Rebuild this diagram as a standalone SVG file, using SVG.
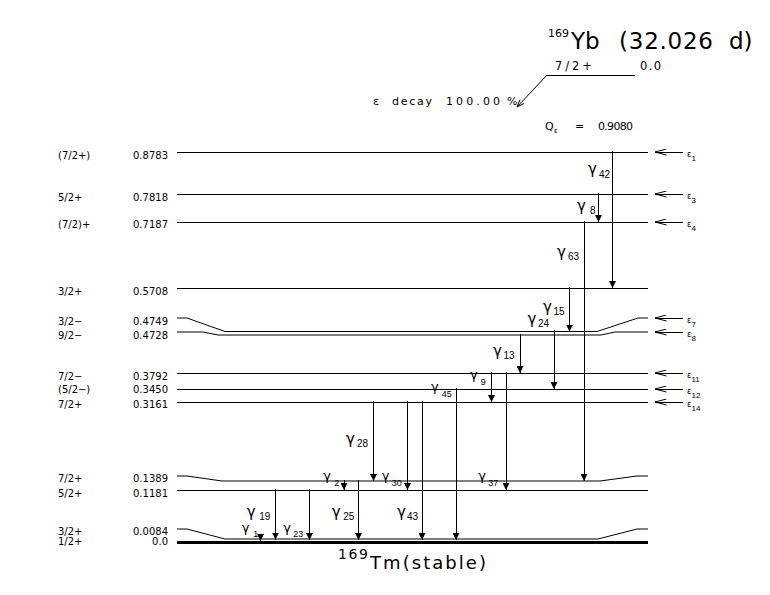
<svg xmlns="http://www.w3.org/2000/svg" width="770" height="595" viewBox="0 0 770 595">
<style>
.lv{fill:none;stroke:#000;stroke-width:1;shape-rendering:crispEdges}
.gnd{fill:none;stroke:#000;stroke-width:3;shape-rendering:crispEdges}
.t{font-family:"DejaVu Sans",sans-serif;font-size:10px;fill:#000}
.e{text-anchor:end}
.eps{font-family:"DejaVu Sans",sans-serif;font-size:8px;fill:#000}
.es{font-family:"Liberation Sans",sans-serif;font-size:8px;fill:#000}
.g{font-family:"DejaVu Sans",sans-serif;font-size:15px;fill:#000}
.gs{font-family:"DejaVu Sans",sans-serif;font-size:13px;fill:#000}
.sub{font-family:"Liberation Sans",sans-serif;font-size:10px;fill:#000}
.subs{font-family:"Liberation Sans",sans-serif;font-size:9px;fill:#000}
.tr{stroke:#000;stroke-width:1;marker-end:url(#ah);shape-rendering:crispEdges}
.fd{stroke:#000;stroke-width:1;marker-end:url(#oa);shape-rendering:crispEdges}
.hd{font-family:"DejaVu Sans",sans-serif;fill:#000}
</style>
<defs>
<marker id="ah" viewBox="0 0 7 7" markerWidth="7" markerHeight="7" refX="7" refY="3.5" orient="auto" markerUnits="userSpaceOnUse"><path d="M0,0 L7,3.5 L0,7 Z" fill="#000"/></marker>
<marker id="oa" viewBox="0 0 12 7" markerWidth="12" markerHeight="7" refX="11.5" refY="3.5" orient="auto" markerUnits="userSpaceOnUse"><path d="M0,0.5 L11.5,3.5 L0,6.5" fill="none" stroke="#000" stroke-width="1"/></marker>
</defs>
<rect width="770" height="595" fill="#fff"/>

<g id="parent">
<text class="hd" x="548" y="37" font-size="11">169</text>
<text class="hd" x="571" y="49" font-size="23">Yb</text>
<text class="hd" x="619" y="49" font-size="23" textLength="94">(32.026</text>
<text class="hd" x="729" y="49" font-size="23">d)</text>
<text class="hd" x="555" y="70" font-size="11.5" textLength="37">7/2+</text>
<text class="hd" x="640" y="69.5" font-size="11.5" textLength="21">0.0</text>
<path class="lv" d="M547,75H635"/>
<path class="lv" d="M547,75L517,107M517,107L524.1,103.4M517,107L520.1,99.6" style="shape-rendering:auto"/>
<text class="hd" x="373" y="105" font-size="11">ε</text>
<text class="hd" x="392" y="105" font-size="11" textLength="40">decay</text>
<text class="hd" x="446" y="105" font-size="11" textLength="54">100.00</text>
<text class="hd" x="507" y="105" font-size="11">%</text>
<text class="hd" x="545" y="130" font-size="11">Q</text>
<text class="hd" x="554" y="133" font-size="7">ε</text>
<text class="hd" x="575" y="130" font-size="11">=</text>
<text class="hd" x="598" y="130" font-size="11" textLength="35">0.9080</text>
</g>

<g id="lv-8783"><path class="lv" d="M177,152H648"/><text class="t" x="58" y="159">(7/2+)</text><text class="t e" x="168" y="159">0.8783</text><line class="fd" x1="683" y1="152" x2="655" y2="152"/><text class="eps" x="687" y="157">ε</text><text class="es" x="691.5" y="161">1</text></g>
<g id="lv-7818"><path class="lv" d="M177,194H648"/><text class="t" x="58" y="200.5">5/2+</text><text class="t e" x="168" y="200.5">0.7818</text><line class="fd" x1="683" y1="194" x2="655" y2="194"/><text class="eps" x="687" y="199">ε</text><text class="es" x="691.5" y="203">3</text></g>
<g id="lv-7187"><path class="lv" d="M177,222H648"/><text class="t" x="58" y="228">(7/2)+</text><text class="t e" x="168" y="228">0.7187</text><line class="fd" x1="683" y1="222" x2="655" y2="222"/><text class="eps" x="687" y="227">ε</text><text class="es" x="691.5" y="231">4</text></g>
<g id="lv-5708"><path class="lv" d="M177,288H648"/><text class="t" x="58" y="294.5">3/2+</text><text class="t e" x="168" y="294.5">0.5708</text></g>
<g id="lv-4749"><path class="lv" d="M177,318H187L225,331.5H597L638,318H648" style="shape-rendering:auto"/><text class="t" x="58" y="324.5">3/2−</text><text class="t e" x="168" y="324.5">0.4749</text><line class="fd" x1="683" y1="318" x2="655" y2="318"/><text class="eps" x="687" y="323">ε</text><text class="es" x="691.5" y="327">7</text></g>
<g id="lv-4728"><path class="lv" d="M177,332H203L218,335H601L615,332H648" style="shape-rendering:auto"/><text class="t" x="58" y="338.5">9/2−</text><text class="t e" x="168" y="338.5">0.4728</text><line class="fd" x1="683" y1="332" x2="655" y2="332"/><text class="eps" x="687" y="337">ε</text><text class="es" x="691.5" y="341">8</text></g>
<g id="lv-3792"><path class="lv" d="M177,373H648"/><text class="t" x="58" y="379.5">7/2−</text><text class="t e" x="168" y="379.5">0.3792</text><line class="fd" x1="683" y1="373" x2="655" y2="373"/><text class="eps" x="687" y="378">ε</text><text class="es" x="691.5" y="382">11</text></g>
<g id="lv-3450"><path class="lv" d="M177,389H648"/><text class="t" x="58" y="393">(5/2−)</text><text class="t e" x="168" y="393">0.3450</text><line class="fd" x1="683" y1="389" x2="655" y2="389"/><text class="eps" x="687" y="394">ε</text><text class="es" x="691.5" y="398">12</text></g>
<g id="lv-3161"><path class="lv" d="M177,402H648"/><text class="t" x="58" y="408">7/2+</text><text class="t e" x="168" y="408">0.3161</text><line class="fd" x1="683" y1="402" x2="655" y2="402"/><text class="eps" x="687" y="407">ε</text><text class="es" x="691.5" y="411">14</text></g>
<g id="lv-1389"><path class="lv" d="M177,476H187L222,481H600L637,476H648" style="shape-rendering:auto"/><text class="t" x="58" y="482">7/2+</text><text class="t e" x="168" y="482">0.1389</text></g>
<g id="lv-1181"><path class="lv" d="M177,490H648"/><text class="t" x="58" y="496.5">5/2+</text><text class="t e" x="168" y="496.5">0.1181</text></g>
<g id="lv-0084"><path class="lv" d="M177,529H187L225,539H598L637,529H648" style="shape-rendering:auto"/><text class="t" x="58" y="535">3/2+</text><text class="t e" x="168" y="535">0.0084</text></g>
<g id="lv-0"><path class="gnd" d="M177,542H648"/><text class="t" x="58" y="545">1/2+</text><text class="t e" x="168" y="545">0.0</text>
<text class="hd" x="338" y="558.5" font-size="14" textLength="30">169</text>
<text class="hd" x="370" y="568.5" font-size="18" textLength="116">Tm(stable)</text></g>

<g id="connectors">
<line class="tr" x1="612.5" y1="150.5" x2="612.5" y2="288"/>
<line class="tr" x1="598.5" y1="192.5" x2="598.5" y2="222"/>
<line class="tr" x1="584" y1="220.5" x2="584" y2="481"/>
<line class="tr" x1="569.5" y1="286.5" x2="569.5" y2="331.5"/>
<line class="tr" x1="554" y1="330" x2="554" y2="389"/>
<line class="tr" x1="520" y1="333.5" x2="520" y2="373"/>
<line class="tr" x1="491.5" y1="371.5" x2="491.5" y2="402"/>
<line class="tr" x1="506" y1="371.5" x2="506" y2="490"/>
<line class="tr" x1="456" y1="387.5" x2="456" y2="540"/>
<line class="tr" x1="373.5" y1="400.5" x2="373.5" y2="481"/>
<line class="tr" x1="407.5" y1="400.5" x2="407.5" y2="490"/>
<line class="tr" x1="422" y1="400.5" x2="422" y2="540"/>
<line class="tr" x1="344" y1="479.5" x2="344" y2="490"/>
<line class="tr" x1="358.5" y1="479.5" x2="358.5" y2="540"/>
<line class="tr" x1="275.5" y1="488.5" x2="275.5" y2="539.5"/>
<line class="tr" x1="309.5" y1="488.5" x2="309.5" y2="540"/>
<line class="tr" x1="260.5" y1="535" x2="260.5" y2="541"/>

<text class="g" x="588" y="174">γ</text><text class="sub" x="599" y="177.5">42</text>
<text class="g" x="577" y="210.5">γ</text><text class="sub" x="590" y="213.5">8</text>
<text class="g" x="557" y="257">γ</text><text class="sub" x="568" y="260">63</text>
<text class="g" x="543" y="312">γ</text><text class="sub" x="553.5" y="315">15</text>
<text class="g" x="527.5" y="323.5">γ</text><text class="sub" x="538" y="326.5">24</text>
<text class="g" x="493" y="356">γ</text><text class="sub" x="503.5" y="359">13</text>
<text class="gs" x="470" y="379">γ</text><text class="subs" x="480.7" y="384.5">9</text>
<text class="gs" x="431" y="391.2">γ</text><text class="subs" x="441.7" y="396.7">45</text>
<text class="g" x="346" y="444">γ</text><text class="sub" x="357" y="447">28</text>
<text class="gs" x="323.3" y="480.2">γ</text><text class="subs" x="334.3" y="485.7">2</text>
<text class="gs" x="381.7" y="480.2">γ</text><text class="subs" x="391.7" y="485.7">30</text>
<text class="gs" x="478.3" y="480.2">γ</text><text class="subs" x="488.3" y="485.7">37</text>
<text class="g" x="331.7" y="516.7">γ</text><text class="sub" x="343.3" y="520">25</text>
<text class="g" x="397" y="516.7">γ</text><text class="sub" x="407" y="520">43</text>
<text class="g" x="246.7" y="516.7">γ</text><text class="sub" x="259.3" y="520">19</text>
<text class="gs" x="283.3" y="531.8">γ</text><text class="subs" x="293.3" y="537.3">23</text>
<text class="gs" x="241.7" y="531.8">γ</text><text class="subs" x="253.3" y="537.3">1</text>
</g>
</svg>
